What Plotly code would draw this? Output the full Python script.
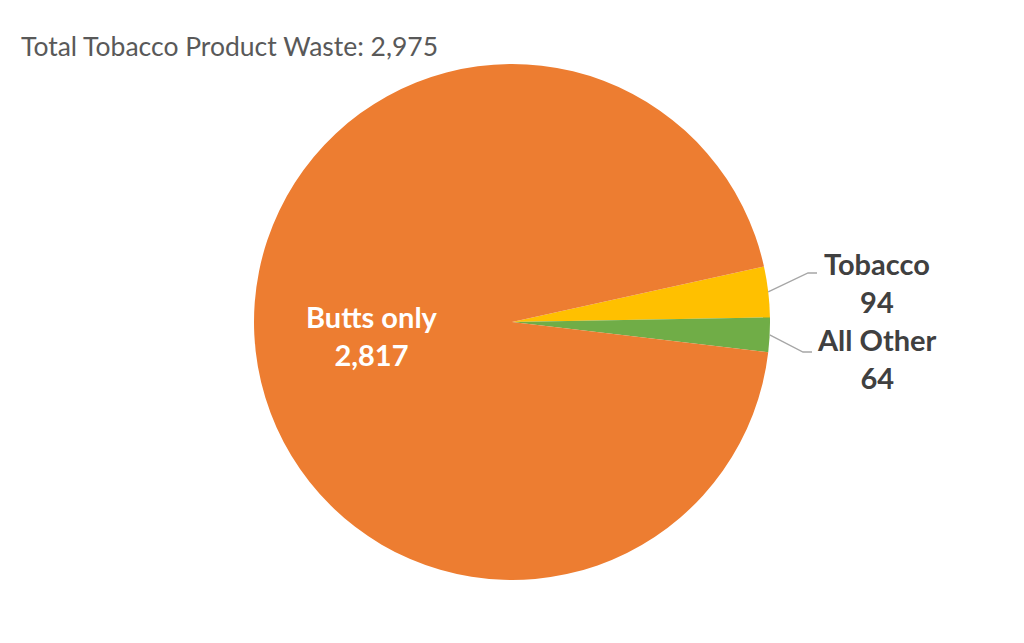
import math
import plotly.graph_objects as go

# Data
categories = ["Tobacco", "All Other", "Butts only"]
values = [94, 64, 2817]
colors = ["#FFC000", "#70AD47", "#ED7D31"]
title_text = "Total Tobacco Product Waste: 2,975"

W, H = 1024, 643
OFF = 8  # page body margin compensation
# pie geometry (pixels, reference coordinates)
cx, cy, r = 512, 322, 258
start_deg = 12.4  # math angle where first slice starts (clockwise direction)


def px(x):
    return (x - OFF) / W


def py(y):
    return 1 - (y - OFF) / H


fig = go.Figure(go.Pie(
    labels=categories,
    values=values,
    sort=False,
    direction="clockwise",
    rotation=90 - start_deg,
    marker=dict(colors=colors, line=dict(width=0)),
    textinfo="none",
    hoverinfo="label+value",
    showlegend=False,
    domain=dict(x=[px(cx - r), px(cx + r)], y=[py(cy + r), py(cy - r)]),
))

total = sum(values)
mids = []
a = start_deg
for v in values:
    span = v / total * 360
    mids.append(a - span / 2)
    a -= span

font = "Lato, 'Open Sans', sans-serif"
annotations = []
shapes = []

# Leader line elbows and label anchor positions (layout)
elbows = {"Tobacco": (808, 273, 817), "All Other": (803, 352, 812)}
label_pos = {"Tobacco": (877, 282), "All Other": (877, 358)}

for cat, v, m in zip(categories, values, mids):
    rad = math.radians(m)
    if cat in elbows:
        ex, ey = cx + r * math.cos(rad), cy - r * math.sin(rad)
        bx, by, hx = elbows[cat]
        shapes.append(dict(type="path", xref="paper", yref="paper",
                           path=f"M {px(ex)} {py(ey)} L {px(bx)} {py(by)} L {px(hx)} {py(by)}",
                           line=dict(color="#A6A6A6", width=1.3)))
        lx, ly = label_pos[cat]
        annotations.append(dict(x=px(lx), y=py(ly), xref="paper", yref="paper",
                                text=f"<b>{cat}<br>{v:,}</b>", showarrow=False,
                                font=dict(family=font, size=29, color="#404040"),
                                xanchor="center", yanchor="middle", align="center"))
    else:
        lx = cx + 0.545 * r * math.cos(rad)
        ly = cy - 0.545 * r * math.sin(rad) + 7
        annotations.append(dict(x=px(lx), y=py(ly), xref="paper", yref="paper",
                                text=f"<b>{cat}<br>{v:,}</b>", showarrow=False,
                                font=dict(family=font, size=29, color="#FFFFFF"),
                                xanchor="center", yanchor="middle", align="center"))

annotations.append(dict(x=px(19), y=py(46), xref="paper", yref="paper",
                        text=title_text, showarrow=False,
                        font=dict(family=font, size=26.5, color="#595959"),
                        xanchor="left", yanchor="middle"))

fig.update_layout(
    width=W, height=H,
    margin=dict(l=0, r=0, t=0, b=0),
    paper_bgcolor="white", plot_bgcolor="white",
    annotations=annotations, shapes=shapes,
)

fig.write_html("out.html")
